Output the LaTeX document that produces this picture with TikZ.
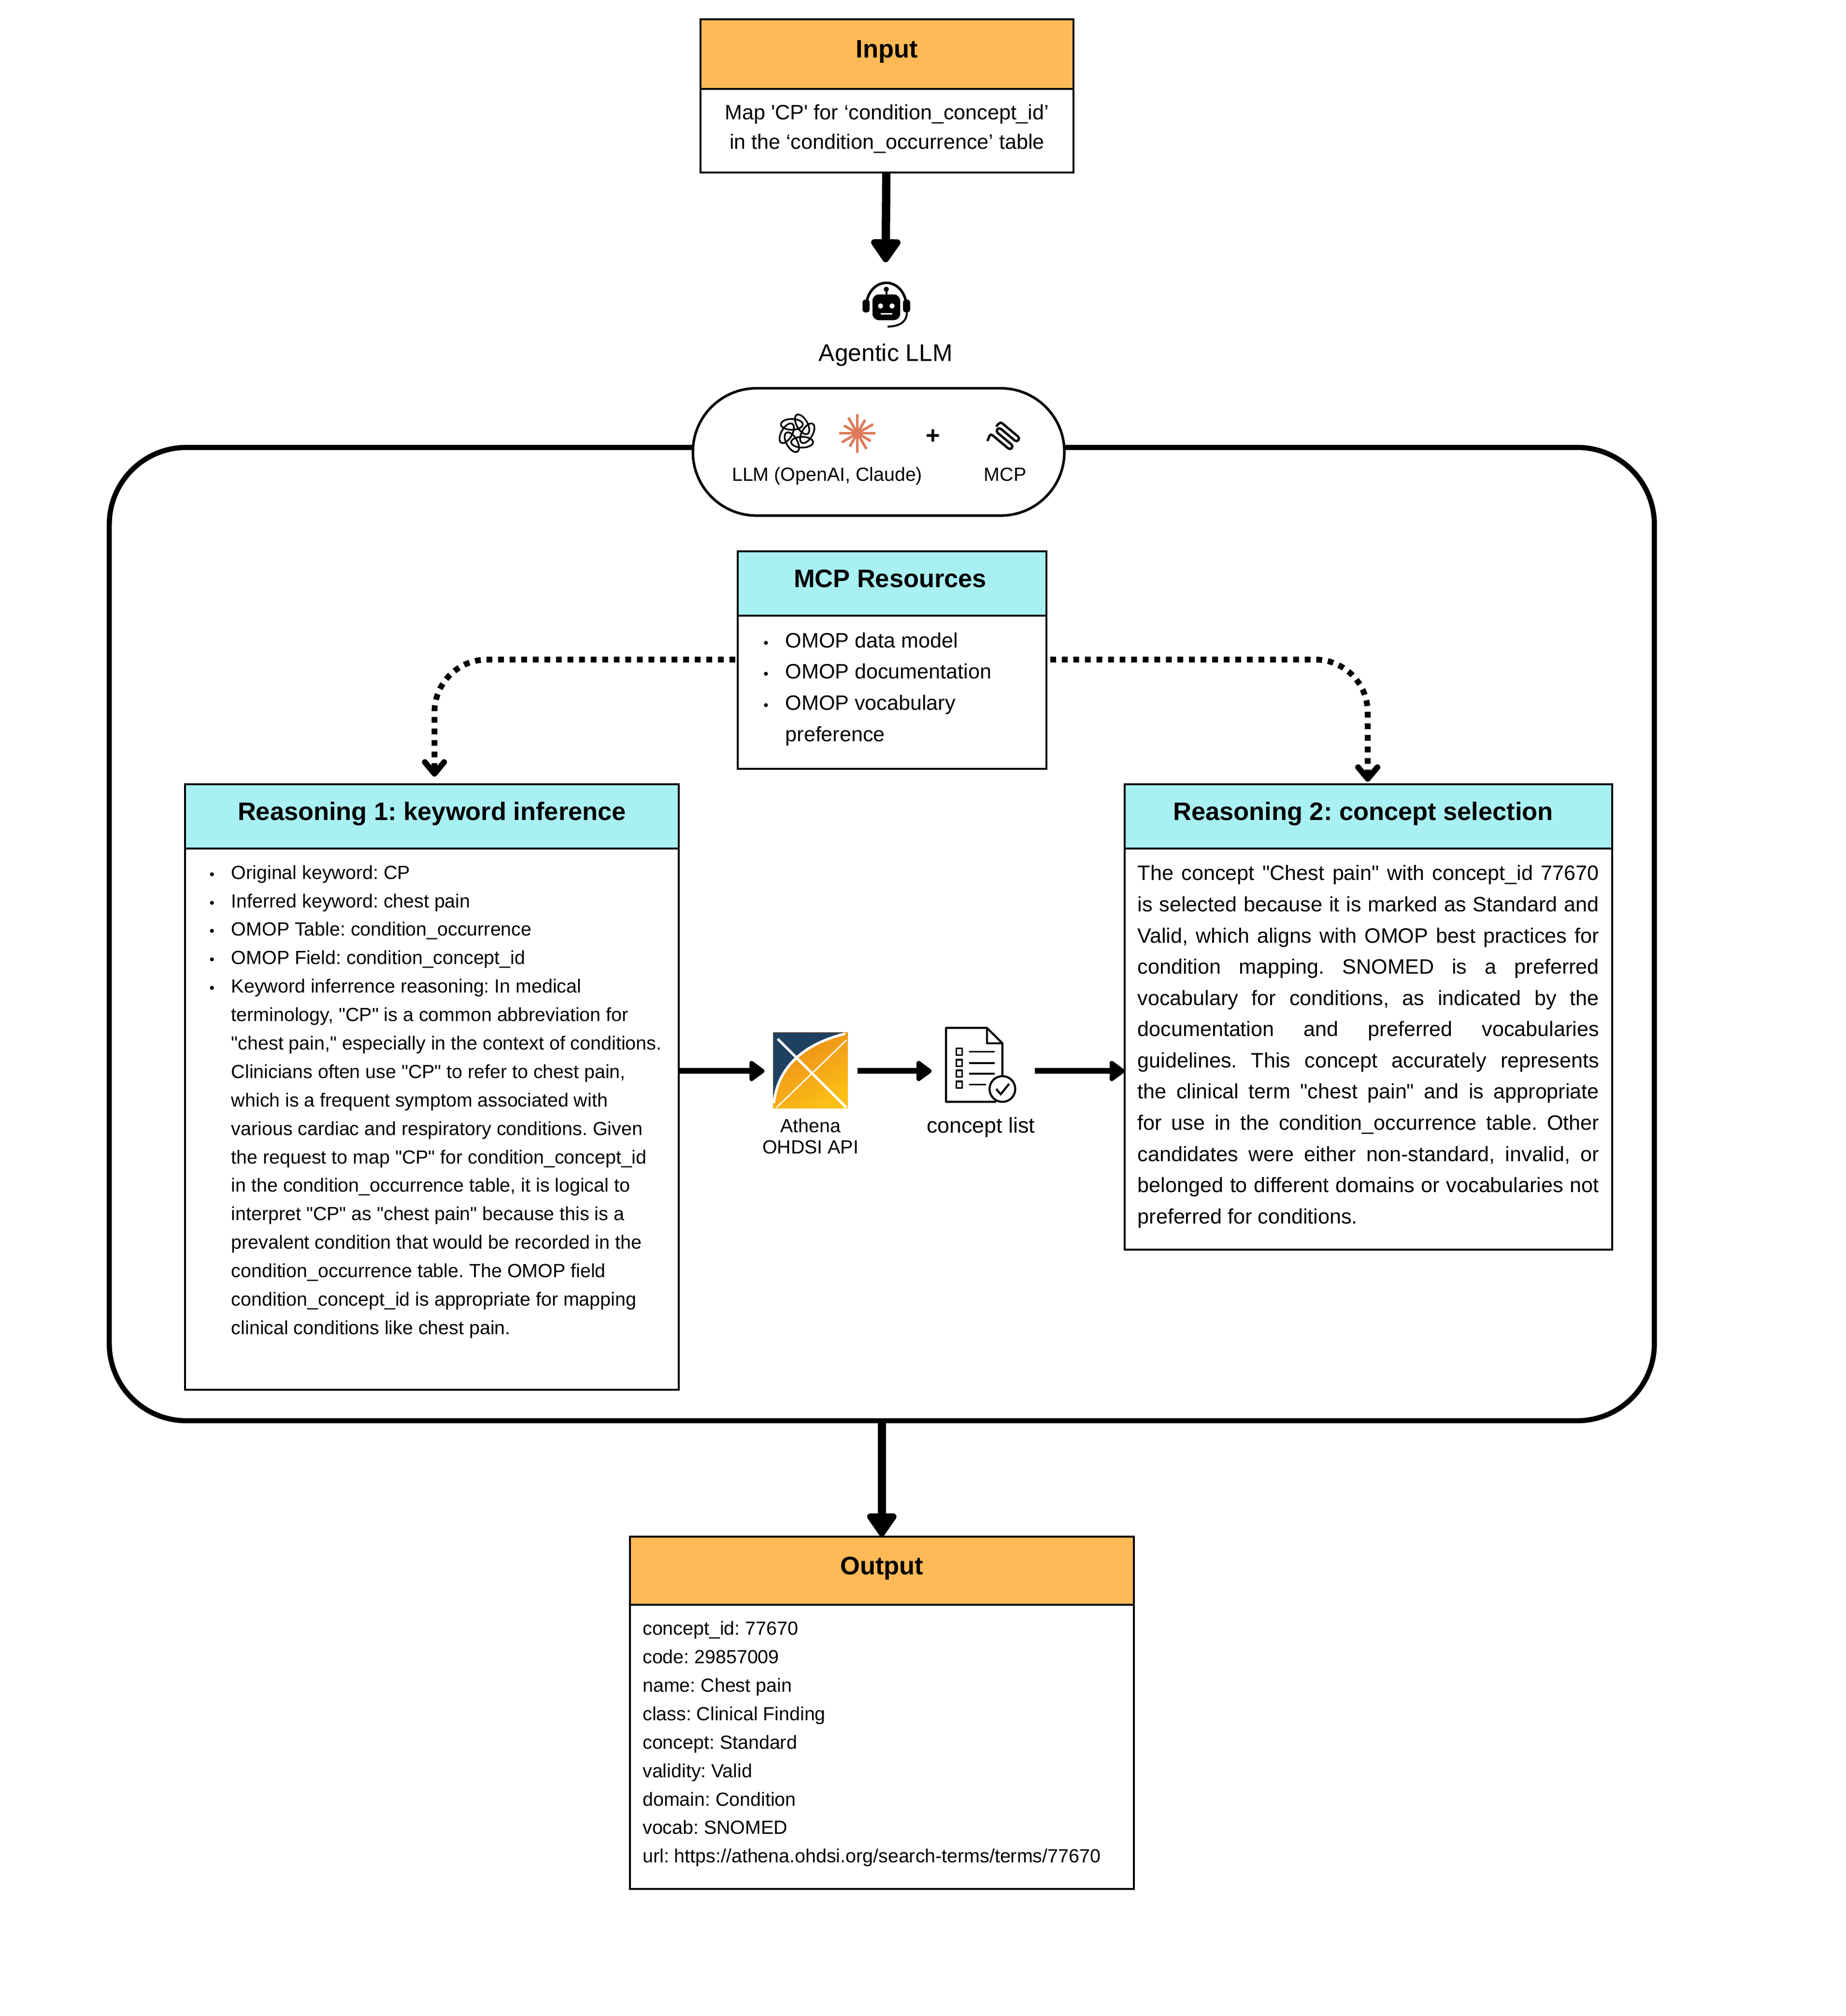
\documentclass[tikz,border=0pt]{standalone}
\usepackage{fontspec}
\setmainfont{Liberation Sans}
\usetikzlibrary{positioning,arrows.meta,shapes.misc}
\definecolor{headorange}{HTML}{FDBA57}
\definecolor{headcyan}{HTML}{A9F0F2}
\definecolor{claudered}{HTML}{DC7A5A}
\definecolor{athblue}{HTML}{1F4161}
\definecolor{athorange}{HTML}{EC8A1B}
\definecolor{athyellow}{HTML}{FBC015}
\newcommand{\sq}{\textquotesingle}
\newcommand{\dq}{\textquotedbl}
\newcommand{\bul}{\hspace*{11pt}\makebox[17pt][l]{\raisebox{0pt}{\fontsize{11}{11}\selectfont\textbullet}}}
\newcommand{\ind}{\hspace*{28pt}}
\newcommand{\bodyfill}[3]{\parbox[c][#1][t]{#2}{\raggedright #3}}

\begin{document}
\frenchspacing
\begin{tikzpicture}[x=1pt,y=-1pt,>={Triangle[length=20pt,width=26pt,round]},
  hdbox/.style={draw,line width=1.5pt,inner sep=0pt,outer sep=0pt,text height=15pt,text depth=9pt,font=\bfseries\fontsize{19.7}{24}\selectfont},
  bdbox/.style={draw,line width=1.5pt,inner ysep=0pt,inner xsep=8pt,outer sep=0pt},
  thickarrow/.style={->,line width=6.5pt},
  flowarrow/.style={->,line width=4.5pt,>={Triangle[length=13pt,width=18pt,round]}},
  resarrow/.style={->,line width=4.5pt,dash pattern=on 4.5pt off 4.5pt,rounded corners=41pt,>={Straight Barb[length=9pt,width=15pt,round,line width=4.5pt]}},
  caption/.style={inner sep=0pt,font=\fontsize{14.8}{16.5}\selectfont,align=center},
  node distance=0pt]
  \useasboundingbox (0,0) rectangle (1436,1568);

  % outer loop, the pill sits on its top edge
  \node[draw,line width=4pt,rounded corners=60pt,minimum width=1202pt,minimum height=757pt,anchor=north west,inner sep=0pt,outer sep=0pt] (loop) at (85,348) {};
  \node[draw,fill=white,rounded rectangle,line width=2pt,minimum width=289pt,minimum height=99pt,inner sep=0pt] (pill) at (683.5,351.5) {};

  % input
  \node[hdbox,fill=headorange,minimum width=290pt,minimum height=54pt,anchor=north] (inhead) at (690,15) {Input};
  \node[bdbox,below=of inhead,font=\fontsize{16.2}{23}\selectfont,align=center,minimum width=290pt,minimum height=65pt,text depth=6pt] (inbody)
    {Map \sq CP\sq{} for ‘condition\_concept\_id’\\in the ‘condition\_occurrence’ table};

  % robot
  \node[minimum size=38pt,inner sep=0pt] (robot) at (689.5,238) {};
  \node[inner sep=0pt,anchor=base,font=\fontsize{18.7}{20}\selectfont] (agent) at (689,281) {Agentic LLM};
  \begin{scope}[shift={(robot.center)}]
    \draw[line width=2pt] (-15.5,0) arc[start angle=180,end angle=360,x radius=15.5,y radius=18];
    \fill[rounded corners=2pt] (-18.5,-5) rectangle (-13,5);
    \fill[rounded corners=2pt] (13,-5) rectangle (18.5,5);
    \fill[rounded corners=5pt] (-10.8,-9) rectangle (10.8,11);
    \draw[line width=1.5pt] (0,-9) -- (0,-12);
    \fill (0,-13) circle (2pt);
    \fill[white] (-4.5,0) circle (2pt) (4.5,0) circle (2pt);
    \draw[white,line width=1.2pt] (-4.5,6) -- (4.5,6);
    \draw[line width=1.5pt] (16,5) .. controls (16,13) and (9,16) .. (1,16);
  \end{scope}

  % llm and mcp marks
  \node[minimum size=30pt,inner sep=0pt] (openai) at (620,337) {};
  \foreach \ang in {0,60,...,300}
    \draw[line width=1.3pt,shift={(openai.center)},rotate=\ang,xshift=8pt,rotate=60] (0,0) ellipse (8.5pt and 4.2pt);
  \node[minimum size=28pt,inner sep=0pt] (claude) at (667,337) {};
  \foreach \ang/\len in {0/14,30/12,60/14,90/15,120/12,150/14,180/14,210/12,240/14,270/15,300/12,330/14}
    \draw[claudered,line width=2pt] (claude.center) -- ++(\ang:\len);
  \node[inner sep=0pt,font=\bfseries\fontsize{19}{20}\selectfont] (plus) at (726,339.5) {+};
  \node[minimum size=28pt,inner sep=0pt] (mcpmark) at (782,339) {};
  \begin{scope}[shift={(mcpmark.center)},rotate=-40]
    \draw[line width=1.8pt,rounded corners=2pt] (-8,12) -- (-10,6) -- (10,6) -- (10,2) -- (-8,2) -- (-8,-2) -- (10,-2) -- (10,-6) -- (-10,-6) -- (-10,-1);
  \end{scope}
  \node[caption,anchor=base] (llmlabel) at (643.5,374) {LLM (OpenAI, Claude)};
  \node[caption,anchor=base] (mcplabel) at (782,374) {MCP};

  % mcp resources
  \node[hdbox,fill=headcyan,minimum width=240pt,minimum height=50pt,anchor=north] (reshead) at (694,429) {\hspace*{-3pt}MCP Resources};
  \node[bdbox,inner xsep=9pt,below=of reshead,font=\fontsize{16.2}{24.3}\selectfont] (resbody)
    {\bodyfill{119pt}{222pt}{\vspace*{13pt}\bul OMOP data model\\\bul OMOP documentation\\\bul OMOP vocabulary\\\ind preference}};

  % reasoning 1
  \node[hdbox,fill=headcyan,minimum width=384pt,minimum height=50pt,anchor=north] (r1head) at (336,610) {Reasoning 1: keyword inference};
  \node[bdbox,below=of r1head,font=\fontsize{14.8}{22.13}\selectfont] (r1body)
    {\bodyfill{421pt}{368pt}{\vspace*{13pt}\bul Original keyword: CP\\
\bul Inferred keyword: chest pain\\
\bul OMOP Table: condition\_occurrence\\
\bul OMOP Field: condition\_concept\_id\\
\bul Keyword inferrence reasoning: In medical\\
\ind terminology, \dq CP\dq{} is a common abbreviation for\\
\ind \dq chest pain,\dq{} especially in the context of conditions.\\
\ind Clinicians often use \dq CP\dq{} to refer to chest pain,\\
\ind which is a frequent symptom associated with\\
\ind various cardiac and respiratory conditions. Given\\
\ind the request to map \dq CP\dq{} for condition\_concept\_id\\
\ind in the condition\_occurrence table, it is logical to\\
\ind interpret \dq CP\dq{} as \dq chest pain\dq{} because this is a\\
\ind prevalent condition that would be recorded in the\\
\ind condition\_occurrence table. The OMOP field\\
\ind condition\_concept\_id is appropriate for mapping\\
\ind clinical conditions like chest pain.}};

  % reasoning 2
  \node[hdbox,fill=headcyan,minimum width=379pt,minimum height=50pt,anchor=north] (r2head) at (1064.5,610) {\hspace*{-8pt}Reasoning 2: concept selection};
  \node[bdbox,inner xsep=10pt,below=of r2head,font=\fontsize{16.2}{24.27}\selectfont] (r2body)
    {\parbox[c][312pt][t]{359pt}{\vspace*{13pt}The concept \dq Chest pain\dq{} with concept\_id 77670\linebreak is selected because it is marked as Standard and\linebreak Valid, which aligns with OMOP best practices for\linebreak condition mapping. SNOMED is a preferred\linebreak vocabulary for conditions, as indicated by the\linebreak documentation and preferred vocabularies\linebreak guidelines. This concept accurately represents\linebreak the clinical term \dq chest pain\dq{} and is appropriate\linebreak for use in the condition\_occurrence table. Other\linebreak candidates were either non-standard, invalid, or\linebreak belonged to different domains or vocabularies not\linebreak preferred for conditions.}};

  % athena logo
  \node[minimum size=59pt,inner sep=0pt] (athena) at (630.5,833) {};
  \node[caption,below=7pt of athena] (athlabel) {Athena\\OHDSI API};
  \shade[left color=athorange,right color=athyellow,shading angle=30] (601.5,803) rectangle (659.5,862);
  \fill[athblue] (601.5,803) -- (657.5,803) .. controls (625,812) and (605,830) .. (601.5,856) -- cycle;
  \draw[white,line width=2pt] (657.5,804) .. controls (625,812) and (605,830) .. (602,858);
  \draw[white,line width=2pt] (605,808) -- (658.5,861.5);
  \draw[white,line width=1pt] (658.5,809) -- (604,861.5);

  % concept list
  \node[minimum width=55pt,minimum height=59pt,inner sep=0pt] (doc) at (762.5,828.5) {};
  \node[inner sep=0pt,anchor=base,font=\fontsize{16.8}{18}\selectfont] (doclabel) at (763,881) {concept list};
  \draw[line width=1.6pt,line join=round] (775,857) -- (736,857) -- (736,799.5) -- (767.8,799.5) -- (779.8,811.4) -- (779.8,837);
  \draw[line width=1.6pt,line join=round] (767.8,799.5) -- (767.8,811.4) -- (779.8,811.4);
  \foreach \yy/\xe in {818/774,826.7/774,835/774,843.6/767}{
    \draw[line width=1.2pt] (744,\yy-2.5) rectangle (748.5,\yy+2.5);
    \draw[line width=1.4pt] (754,\yy) -- (\xe,\yy);
  }
  \draw[line width=1.6pt] (779.8,847) circle (10pt);
  \draw[line width=1.6pt] (775,847) -- (778.5,851) -- (785,843);

  % output
  \node[hdbox,fill=headorange,minimum width=392pt,minimum height=53pt,anchor=north] (outhead) at (686,1195) {Output};
  \node[bdbox,inner xsep=10pt,below=of outhead,font=\fontsize{14.8}{22.13}\selectfont] (outbody)
    {\bodyfill{221pt}{372pt}{\vspace*{13pt}concept\_id: 77670\\code: 29857009\\name: Chest pain\\class: Clinical Finding\\concept: Standard\\validity: Valid\\domain: Condition\\vocab: SNOMED\\url: https://athena.ohdsi.org/search-terms/terms/77670}};

  % connectors
  \coordinate (robottop) at (689,204);
  \coordinate (ltarget) at (338,604);
  \coordinate (rtarget) at (1064,608);
  \coordinate (lstart) at (572,513);
  \coordinate (rstart) at (817,513);
  \draw[thickarrow] (inbody.south -| robot) -- (robottop);
  \draw[thickarrow] (loop.south -| outhead) -- (outhead.north);
  \draw[resarrow] (lstart) -| (ltarget);
  \draw[resarrow] (rstart) -| (rtarget);
  \draw[flowarrow] (r1body.east |- athena) -- ([xshift=-6pt]athena.west);
  \draw[flowarrow] ([xshift=7pt]athena.east) -- ([xshift=-10pt]doc.west |- athena);
  \draw[flowarrow] ([xshift=15pt]doc.east |- athena) -- (r2body.west |- athena);
\end{tikzpicture}
\end{document}
